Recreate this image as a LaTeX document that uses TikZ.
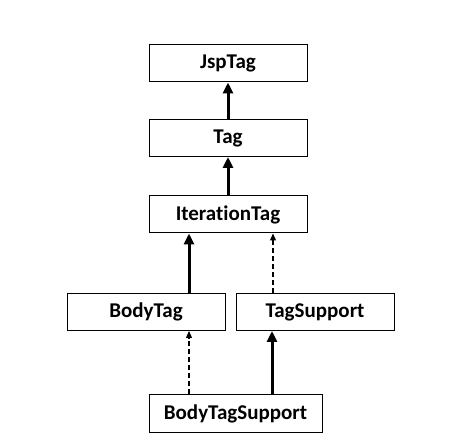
\documentclass[tikz,border=0pt]{standalone}
\usepackage{fontspec}
\setmainfont[Ligatures=NoCommon]{Carlito}
\usetikzlibrary{arrows.meta}
\begin{document}
\begin{tikzpicture}[x=1pt,y=1pt,
  cls/.style={draw=black,line width=1pt,minimum width=158pt,minimum height=37pt,inner sep=0pt,
    font=\fontsize{21}{25}\selectfont\bfseries},
  inh/.style={line width=3pt,-{Triangle[length=11pt,width=10pt]}},
  impl/.style={line width=1.2pt,dash pattern=on 5pt off 3pt,-{Triangle[length=7pt,width=6pt]}}]
\useasboundingbox (0,0) rectangle (459,445);
\node[cls] (jsp) at (228,381.5) {JspTag};
\node[cls] (tag) at (228,307) {Tag};
\node[cls] (it) at (228,230.5) {IterationTag};
\node[cls] (bt) at (146,133) {BodyTag};
\node[cls] (ts) at (315,133) {TagSupport};
\node[cls,minimum width=173pt,minimum height=38pt] (bts) at (235.5,31) {BodyTagSupport};
\draw[inh] (tag.north) -- (jsp.south);
\draw[inh] (it.north) -- (tag.south);
\draw[inh] ([xshift=43pt]bt.north) -- ([xshift=-39pt]it.south);
\draw[impl] ([xshift=-42pt]ts.north) -- ([xshift=45pt]it.south);
\draw[impl] ([xshift=-46.5pt]bts.north) -- ([xshift=43pt]bt.south);
\draw[inh] ([xshift=36.5pt]bts.north) -- ([xshift=-43pt]ts.south);
\end{tikzpicture}
\end{document}
